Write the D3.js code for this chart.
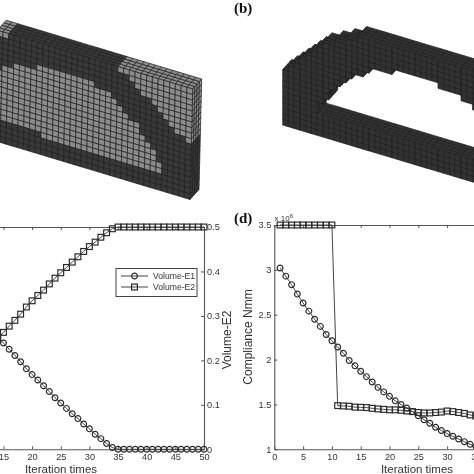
<!DOCTYPE html>
<html><head><meta charset="utf-8">
<script src="https://cdnjs.cloudflare.com/ajax/libs/d3/7.8.5/d3.min.js"></script>
<style>html,body{margin:0;padding:0;background:#fff;overflow:hidden}svg{display:block}
text{font-family:"Liberation Sans",Arial,sans-serif;fill:#333}</style></head>
<body><svg id="c" width="474" height="474"></svg>
<script>
// Panel (c) data
const iterC=[14,15,16,17,18,19,20,21,22,23,24,25,26,27,28,29,30,31,32,33,34,35,36,37,38,39,40,41,42,43,44,45,46,47,48,49,50];
const volE1=[.252,.239,.225,.211,.197,.181,.168,.156,.143,.130,.116,.104,.092,.080,.069,.057,.046,.034,.024,.013,.004,0,0,0,0,0,0,0,0,0,0,0,0,0,0,0,0];
const volE2=[.249,.263,.277,.290,.304,.320,.334,.346,.358,.372,.385,.397,.409,.421,.433,.445,.456,.466,.477,.487,.496,.5,.5,.5,.5,.5,.5,.5,.5,.5,.5,.5,.5,.5,.5,.5,.5];
const ticksXC=[15,20,25,30,35,40,45,50];
const ticksYC=[0,.1,.2,.3,.4,.5];
// Panel (d) data
const iterD=[1,2,3,4,5,6,7,8,9,10,11,12,13,14,15,16,17,18,19,20,21,22,23,24,25,26,27,28,29,30,31,32,33,34,35];
const compE1=[3.02,2.93,2.835,2.73,2.63,2.54,2.45,2.37,2.28,2.21,2.14,2.07,1.99,1.93,1.87,1.81,1.75,1.69,1.64,1.59,1.54,1.50,1.46,1.42,1.375,1.33,1.29,1.245,1.21,1.175,1.145,1.115,1.085,1.055,1.03];
const compE2=[3.5,3.5,3.5,3.5,3.5,3.5,3.5,3.5,3.5,3.5,1.487,1.483,1.48,1.47,1.468,1.465,1.457,1.45,1.445,1.44,1.44,1.435,1.427,1.42,1.41,1.405,1.405,1.41,1.415,1.427,1.42,1.41,1.40,1.383,1.37];
const ticksXD=[0,5,10,15,20,25,30,35];
const ticksYD=[1,1.5,2,2.5,3,3.5];
// Panel (a): grey regions of the mesh, per column (row numbers)
const domeTopA=[7,6,6,5,5,5,5,4,4,4,4,4,4,4,4,4,4,5,5,5,6,7,8,9,9,11,12,13,15,20,20,20,20,20];
const domeEndA=[16,16,16,16,16,16,16,16,17,17,17,17,17,17,17,17,17,17,17,17,17,17,17,17,17,17,17,17,17,0,0,0,0,0];
const cornerEndA=[1,1,0,0,0,0,0,0,0,0,0,0,0,0,0,0,0,0,0,0,0,1,1,2,3,4,4,5,6,7,8,9,9,10];
// Panel (b): material rows per column, upper arch [top,end) plus lower beam from beamTopB
const archTopB=[10,9,8,7,6,5,4,3,3,2,2,1,1,0,0,0,0,0,0,0,0,0,0,0,0,0,0,0,0,0,0,0,0,0,0];
const archEndB=[16,16,16,16,16,16,14,13,11,10,9,8,7,7,6,5,5,5,5,4,4,4,4,4,4,4,4,5,5,5,5,6,6,7,7];
const beamTopB=16, meshRows=20, meshDepth=4;

const svg=d3.select("#c");
const defs=svg.append("defs");
defs.append("filter").attr("id","soft").attr("x","-2%").attr("y","-2%").attr("width","104%").attr("height","104%")
  .append("feGaussianBlur").attr("stdDeviation",0.42);
const root=svg.append("g").attr("filter","url(#soft)");
root.append("rect").attr("width",474).attr("height",474).attr("fill","#fff");

// ---- generic extruded mesh
function drawMesh(g,o){
  const colX=d3.scaleLinear().domain([0,o.cols]).range(o.xr);
  const colY=d3.scaleLinear().domain([0,o.cols]).range(o.yr);
  const rowH=d3.scaleLinear().domain([0,meshRows]).range([0,o.h]);
  const rowS=d3.scaleLinear().domain([0,meshRows]).range([0,o.skew]);
  const dX=d3.scaleLinear().domain([0,meshDepth]).range([0,o.dx]);
  const dY=d3.scaleLinear().domain([0,meshDepth]).range([0,o.dy]);
  const P=(c,r,d)=>[colX(c)+rowS(r)+dX(d),colY(c)+rowH(r)+dY(d)];
  const faces=[],front=[];
  for(let c=0;c<o.cols;c++)for(let r=0;r<meshRows;r++){
    const m=o.cell(c,r); if(!m)continue;
    front.push({pts:[P(c,r,0),P(c+1,r,0),P(c+1,r+1,0),P(c,r+1,0)],m});
    if(r===0||!o.cell(c,r-1))for(let d=0;d<meshDepth;d++)
      faces.push({pts:[P(c,r,d),P(c+1,r,d),P(c+1,r,d+1),P(c,r,d+1)],m:o.topM?o.topM(c):m});
    if(c===o.cols-1||!o.cell(c+1,r))for(let d=0;d<meshDepth;d++)
      faces.push({pts:[P(c+1,r,d),P(c+1,r,d+1),P(c+1,r+1,d+1),P(c+1,r+1,d)],m});
  }
  g.selectAll("path").data(faces.concat(front)).join("path")
    .attr("d",f=>"M"+f.pts.join("L")+"Z")
    .attr("fill",f=>f.m===1?"#8c8c8c":o.dark)
    .attr("stroke","#1e1e1e").attr("stroke-width",0.7);
}
drawMesh(root.append("g"),{cols:34,dark:"#383838",xr:[-2.8,192.7],yr:[30.2,89],h:110.5,skew:-2.7,dx:9,dy:-10,
  cell:(c,r)=>(r<cornerEndA[c]||(r>=domeTopA[c]&&r<domeEndA[c]))?1:2,
  topM:c=>(c<2||c>=21)?1:2});
drawMesh(root.append("g"),{cols:35,dark:"#323232",xr:[282.7,484],yr:[14,74.4],h:111,skew:0,dx:9,dy:-10,
  cell:(c,r)=>(r>=beamTopB||(r>=archTopB[c]&&r<archEndB[c]))?2:0});

// ---- charts
function styleAxis(a){
  a.selectAll(".domain").attr("stroke","#555").attr("stroke-width",1.1);
  a.selectAll(".tick line").attr("stroke","#444").attr("stroke-width",0.9);
  a.selectAll("text").attr("font-size",9.2).attr("fill","#333").attr("font-family","Liberation Sans");
}
function drawSeries(g,xs,ys,x,y,kind){
  const line=d3.line().x((d,i)=>x(xs[i])).y(d=>y(d));
  g.append("path").datum(ys).attr("d",line).attr("fill","none").attr("stroke","#444").attr("stroke-width",1);
  marker(g.selectAll("m").data(ys).join("g").attr("transform",(d,i)=>`translate(${x(xs[i])},${y(d)})`),kind);
}
function marker(sel,kind){
  if(kind==="o")sel.append("circle").attr("r",2.9).attr("fill","none").attr("stroke","#2c2c2c").attr("stroke-width",1.2);
  else sel.append("rect").attr("x",-2.9).attr("y",-2.9).attr("width",5.8).attr("height",5.8).attr("fill","none").attr("stroke","#2c2c2c").attr("stroke-width",1.2);
}
// Panel (c)
const xC=d3.scaleLinear().domain([0,50]).range([-82.5,204]);
const yC=d3.scaleLinear().domain([0,.5]).range([449.3,227]);
const gC=root.append("g");
styleAxis(gC.append("g").attr("transform","translate(0,449.3)").call(d3.axisBottom(xC).tickValues(ticksXC).tickSize(-3).tickPadding(4.5).tickSizeOuter(0).tickFormat(d3.format("d"))));
styleAxis(gC.append("g").attr("transform","translate(0,227)").call(d3.axisTop(xC).tickValues(ticksXC).tickSize(-3).tickSizeOuter(0).tickFormat("")));
styleAxis(gC.append("g").attr("transform","translate(204,0)").call(d3.axisRight(yC).tickValues(ticksYC).tickSize(-3).tickPadding(3).tickSizeOuter(0).tickFormat(d=>d===0?"0":d3.format(".1f")(d))));
drawSeries(gC,iterC,volE1,xC,yC,"o");
drawSeries(gC,iterC,volE2,xC,yC,"s");
gC.append("text").attr("x",61).attr("y",472.5).attr("text-anchor","middle").attr("font-size",11.5).text("Iteration times");
gC.append("text").attr("transform","translate(231,340) rotate(-90)").attr("text-anchor","middle").attr("font-size",12).text("Volume-E2");
// legend
const legend=gC.append("g").attr("transform","translate(116,268.5)");
legend.append("rect").attr("width",81).attr("height",28).attr("fill","#fff").attr("stroke","#444").attr("stroke-width",1);
[["Volume-E1","o"],["Volume-E2","s"]].forEach((e,i)=>{
  const yy=i?18.5:7.5;
  legend.append("line").attr("x1",5).attr("x2",32).attr("y1",yy).attr("y2",yy).attr("stroke","#444");
  marker(legend.append("g").attr("transform",`translate(18.5,${yy})`),e[1]);
  legend.append("text").attr("x",37).attr("y",yy+3).attr("font-size",8.6).text(e[0]);
});
// Panel (d)
const xD=d3.scaleLinear().domain([0,50]).range([274.3,562.3]);
const yD=d3.scaleLinear().domain([1,3.5]).range([449.3,225]);
const gD=root.append("g");
styleAxis(gD.append("g").attr("transform","translate(0,449.3)").call(d3.axisBottom(xD).tickValues(ticksXD).tickSize(-3).tickPadding(4.5).tickSizeOuter(0).tickFormat(d3.format("d"))));
styleAxis(gD.append("g").attr("transform","translate(0,225)").call(d3.axisTop(xD).tickValues(ticksXD).tickSize(-3).tickSizeOuter(0).tickFormat("")));
styleAxis(gD.append("g").attr("transform","translate(274.3,0)").call(d3.axisLeft(yD).tickValues(ticksYD).tickSize(-3).tickPadding(3).tickSizeOuter(0).tickFormat(d=>d%1===0?String(d):d3.format(".1f")(d))));
drawSeries(gD,iterD,compE1,xD,yD,"o");
drawSeries(gD,iterD,compE2,xD,yD,"s");
gD.append("text").attr("x",417).attr("y",472.5).attr("text-anchor","middle").attr("font-size",11.5).text("Iteration times");
gD.append("text").attr("transform","translate(252,337) rotate(-90)").attr("text-anchor","middle").attr("font-size",12).text("Compliance Nmm");
const exp=gD.append("text").attr("x",274.5).attr("y",221).attr("font-size",8);
exp.append("tspan").text("x 10");
exp.append("tspan").attr("dy",-3).attr("font-size",6).text("6");
// Panel letters
const label=(t,x,y)=>root.append("text").attr("x",x).attr("y",y).attr("font-size",15).attr("font-weight","bold").style("font-family","Liberation Serif").style("fill","#111").text(t);
label("(b)",234,13);label("(d)",234,223);
</script></body></html>
